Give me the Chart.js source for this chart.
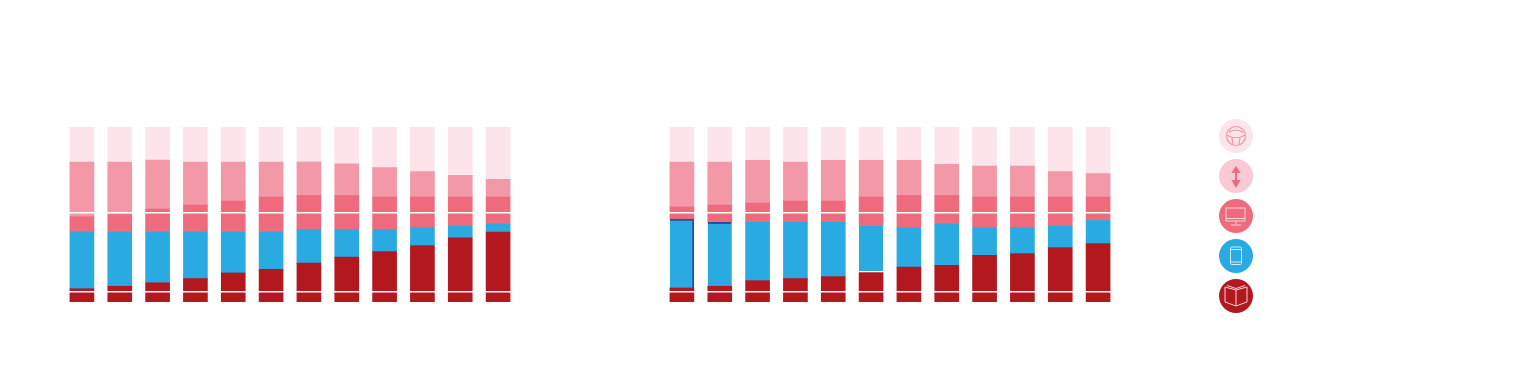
<!DOCTYPE html>
<html>
<head>
<meta charset="utf-8">
<script src="https://cdn.jsdelivr.net/npm/chart.js@4"></script>
<style>
  html, body { margin: 0; padding: 0; background: #fff; }
  body { position: relative; width: 1536px; height: 374px; overflow: hidden; }
  .painel { position: absolute; top: 127px; width: 454px; height: 175px; }
  #painelEsq { left: 63px; }
  #painelDir { left: 663px; }
  #icones { position: absolute; left: 1215px; top: 115px; }
</style>
</head>
<body>
<div class="painel" id="painelEsq"><canvas id="graficoEsq"></canvas></div>
<div class="painel" id="painelDir"><canvas id="graficoDir"></canvas></div>

<svg id="icones" width="42" height="202" viewBox="0 0 42 202">
  <circle cx="21" cy="21" r="17" fill="#fce4ea"/>
  <g fill="none" stroke="#f298a6" stroke-width="1.2">
    <circle cx="21" cy="21" r="9.5"/>
    <path d="M14 17.5 C17 14.5 25 14.5 28 17.5"/>
    <path d="M11.8 20 L17 22.5 L18 30 M30.2 20 L25 22.5 L24 30 M17 22.5 H25"/>
  </g>
  <circle cx="21" cy="61" r="17" fill="#fbc9d3"/>
  <path d="M21 51 L25.5 58 H22 V65 H25.5 L21 73 L16.5 65 H20 V58 H16.5 Z" fill="#ee6a7d"/>
  <circle cx="21" cy="101" r="17" fill="#ee6a7d"/>
  <g fill="none" stroke="#fbd3da" stroke-width="1">
    <rect x="11" y="93" width="19" height="13"/>
    <path d="M11 103.5 H30 M21 106 V109 M16 110 H26"/>
  </g>
  <circle cx="21" cy="141" r="17" fill="#29abe2"/>
  <g fill="none" stroke="#cfeaf7" stroke-width="1">
    <rect x="15.5" y="132" width="11" height="17.5" rx="1.2"/>
    <path d="M15.5 134.5 H26.5 M15.5 147 H26.5"/>
  </g>
  <circle cx="21" cy="181" r="17" fill="#b3181f"/>
  <g fill="none" stroke="#f3d3d5" stroke-width="1">
    <path d="M21 175 L10 172 V187 L21 191 L32 187 V172 Z M21 175 V191"/>
    <path d="M12 170.5 L21 173.5 L30 170.5"/>
  </g>
</svg>

<script>
const categorias = ['1', '2', '3', '4', '5', '6', '7', '8', '9', '10', '11', '12'];

const cores = ['#b3181f', '#29abe2', '#ee6a7d', '#f298a6', '#fce4ea'];
const linhasBrancas = [5.7, 51.2];

const vermelhoEsq = [7.6, 9, 11, 13.4, 16.6, 18.7, 22.2, 25.6, 28.8, 32.3, 36.7, 40];
const azulEsq = [32.4, 31, 29, 26.6, 23.4, 21.3, 19.1, 15.7, 12.5, 10.1, 6.7, 4.5];
const rosaEsq = [8.7, 10, 13.1, 15.4, 17.7, 20, 19.6, 19.6, 18.7, 17.6, 16.6, 15.5];
const salmaoEsq = [31.3, 30, 28, 24.6, 22.3, 20, 19.1, 18, 16.8, 14.5, 12.4, 10.1];
const claroEsq = [20, 20, 18.9, 20, 20, 20, 20, 21.1, 23.2, 25.5, 27.6, 29.9];

const vermelhoDir = [8, 9, 12.2, 13.4, 14.5, 16.8, 19.9, 21, 26.7, 27.7, 31.1, 33.4];
const azulDir = [39.4, 36.5, 33.3, 32.1, 31, 26.6, 22.5, 23.5, 15.7, 14.7, 12.3, 13.2];
const rosaDir = [6.9, 9.9, 11, 12.2, 12.2, 16.6, 18.5, 16.4, 17.6, 17.6, 16.6, 13.4];
const salmaoDir = [25.7, 24.6, 24.5, 22.3, 23.3, 21, 20.1, 17.8, 17.7, 17.7, 14.5, 13.4];
const claroDir = [20, 20, 19, 20, 19, 19, 19, 21.3, 22.3, 22.3, 25.5, 26.6];

function criarGrafico(id, series, extrasAzul) {
    const datasets = series.map(function (valores, i) {
        const ds = {
            data: valores,
            backgroundColor: cores[i],
            borderWidth: 0,
            barThickness: 24
        };
        if (i === 1 && extrasAzul) {
            Object.assign(ds, extrasAzul);
        }
        return ds;
    });

    return new Chart(document.getElementById(id), {
        type: 'bar',
        data: { labels: categorias, datasets: datasets },
        options: {
            responsive: true,
            maintainAspectRatio: false,
            animation: false,
            layout: { padding: 0 },
            plugins: { legend: { display: false }, tooltip: { enabled: false } },
            scales: {
                x: {
                    stacked: true,
                    grid: { display: false, drawTicks: false },
                    border: { display: false },
                    ticks: { display: false, padding: 0 }
                },
                y: {
                    stacked: true,
                    min: 0,
                    max: 100,
                    afterBuildTicks: function (axis) {
                        axis.ticks = linhasBrancas.map(function (v) { return { value: v }; });
                    },
                    // white lines run across the bars
                    grid: { color: '#ffffff', lineWidth: 1.5, z: 1, drawTicks: false },
                    border: { display: false },
                    ticks: { display: false, padding: 0 }
                }
            }
        }
    });
}

criarGrafico('graficoEsq', [vermelhoEsq, azulEsq, rosaEsq, salmaoEsq, claroEsq]);

// first two blue bars on the right have a dark outline, the sixth a white gap under it
const azulEscuro = '#2b4f9e';
criarGrafico('graficoDir', [vermelhoDir, azulDir, rosaDir, salmaoDir, claroDir], {
    borderSkipped: false,
    borderColor: [azulEscuro, azulEscuro, cores[1], cores[1], cores[1], '#ffffff', cores[1], cores[1], cores[1], cores[1], cores[1], cores[1]],
    borderWidth: [{ top: 2, right: 2 }, { top: 2 }, 0, 0, 0, { bottom: 2 }, 0, 0, 0, 0, 0, 0]
});
</script>
</body>
</html>
